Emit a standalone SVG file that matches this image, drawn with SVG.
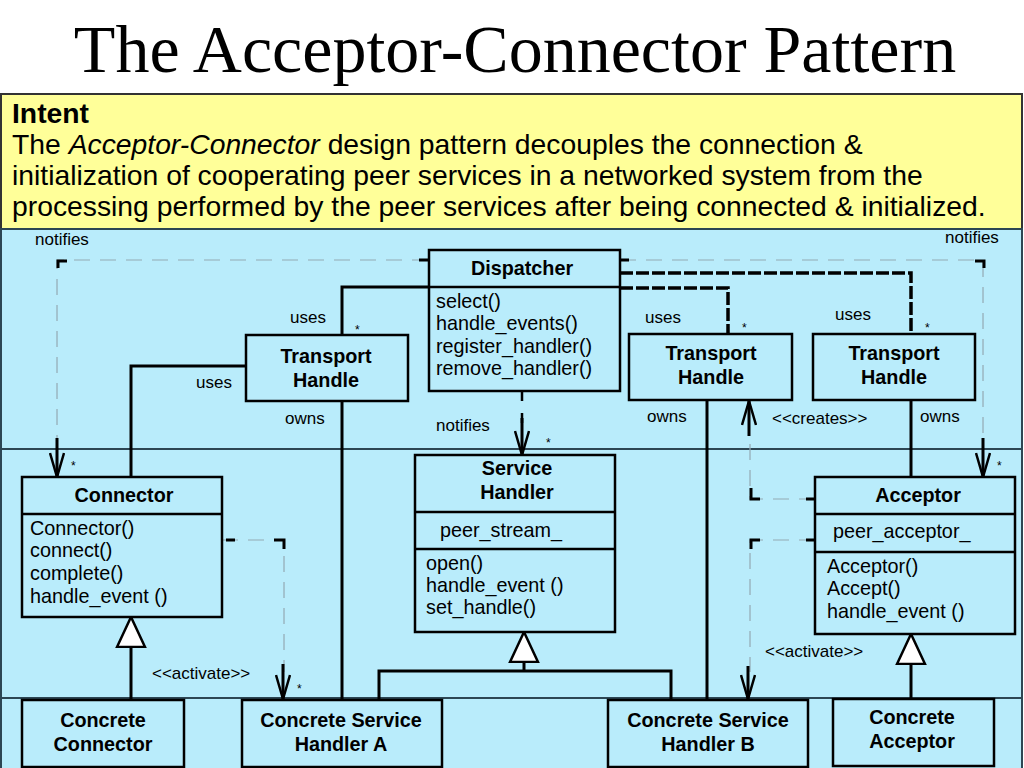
<svg xmlns="http://www.w3.org/2000/svg" width="1024" height="768" viewBox="0 0 1024 768">
<style>
 .title{font-family:"Liberation Serif","Times New Roman",serif;font-size:68px;fill:#000}
 .intent{font-family:"Liberation Sans",Arial,sans-serif;font-size:28.3px;fill:#000}
 .box{fill:#b9ecfb;stroke:#000;stroke-width:2.5}
 .sep{stroke:#000;stroke-width:2.5}
 .nt{font-family:"Liberation Sans",Arial,sans-serif;font-size:19.8px;font-weight:bold;text-anchor:middle}
 .mt{font-family:"Liberation Sans",Arial,sans-serif;font-size:19.8px}
 .lb{font-family:"Liberation Sans",Arial,sans-serif;font-size:17px}
 .st{font-family:"Liberation Sans",Arial,sans-serif;font-size:12px}
 .thick{fill:none;stroke:#000;stroke-width:3}
 .thickdash{fill:none;stroke:#000;stroke-width:3.5;stroke-dasharray:13 3}
 .faint{fill:none;stroke:#93a9b3;stroke-width:1.2;stroke-dasharray:16 10}
 .mark{fill:none;stroke:#000;stroke-width:3}
 .dark{fill:none;stroke:#000;stroke-width:2.5;stroke-dasharray:10 12}
 .panel{stroke:#2d4653;stroke-width:2}
</style>
<defs>
 <marker id="open" viewBox="0 0 26 16" refX="25" refY="8" markerWidth="26" markerHeight="16" markerUnits="userSpaceOnUse" orient="auto"><path d="M1,1 L25,8 L1,15" fill="none" stroke="#000" stroke-width="2.5"/></marker>
 <marker id="tri" viewBox="0 0 32 32" refX="31" refY="16" markerWidth="32" markerHeight="32" markerUnits="userSpaceOnUse" orient="auto"><path d="M1,2 L31,16 L1,30 Z" fill="#fff" stroke="#000" stroke-width="2.5"/></marker>
</defs>
<rect width="1024" height="768" fill="#fff"/>
<text class="title" x="515" y="72" text-anchor="middle">The Acceptor-Connector Pattern</text>
<g id="intent">
 <rect x="1" y="94" width="1021" height="135" fill="#ffff99" stroke="#333" stroke-width="2"/>
 <text class="intent" x="12" y="123" font-weight="bold">Intent</text>
 <text class="intent" x="12" y="154">The <tspan font-style="italic">Acceptor-Connector</tspan> design pattern decouples the connection &amp;</text>
 <text class="intent" x="12" y="185">initialization of cooperating peer services in a networked system from the</text>
 <text class="intent" x="12" y="216">processing performed by the peer services after being connected &amp; initialized.</text>
</g>
<g id="panels">
 <rect x="1" y="229" width="1021" height="540" fill="#b9ecfb" stroke="#2d4653" stroke-width="2"/>
 <line class="panel" x1="1" y1="449" x2="1022" y2="449"/>
 <line class="panel" x1="1" y1="698" x2="1022" y2="698"/>
</g>
<g id="connectors">
 <path class="faint" d="M428,260 H57 V450"/>
 <path class="mark" d="M67,261 H58 V268 M419,260 H428"/>
 <path class="mark" d="M57,438 V477" marker-end="url(#open)"/>
 <path class="faint" d="M620,260 H983 V450"/>
 <path class="mark" d="M975,261 H984 V268 M620,260 H629"/>
 <path class="mark" d="M983,438 V477" marker-end="url(#open)"/>
 <path class="thick" d="M429,287 H342 V335"/>
 <path class="thick" d="M246,366 H131 V477"/>
 <path class="thickdash" d="M620,288 H728 V334"/>
 <path class="thickdash" d="M620,273 H911 V334"/>
 <path class="thick" d="M342,401 V700"/>
 <path class="thick" d="M707,400 V700"/>
 <path class="thick" d="M911,400 V477"/>
 <path class="dark" d="M522,391 V430"/>
 <path class="mark" d="M522,418 V455" marker-end="url(#open)"/>
 <path class="faint" d="M815,499 H750 V440"/>
 <path class="mark" d="M806,499 H815 M751,488 V499 H760"/>
 <path class="mark" d="M749,436 V401" marker-end="url(#open)"/>
 <path class="faint" d="M815,540 H750 V672"/>
 <path class="mark" d="M806,540 H815 M751,549 V540 H760"/>
 <path class="mark" d="M748,666 V699" marker-end="url(#open)"/>
 <path class="faint" d="M222,540 H284 V672"/>
 <path class="mark" d="M226,540 H235 M274,540 H284 V549"/>
 <path class="mark" d="M283,664 V699" marker-end="url(#open)"/>
 <path class="thick" d="M131,700 V617" marker-end="url(#tri)"/>
 <path class="thick" d="M379,700 V671 H671 V700"/>
 <path class="thick" d="M524,671 V632" marker-end="url(#tri)"/>
 <path class="thick" d="M911,699 V634" marker-end="url(#tri)"/>
</g>
<g id="labels">
 <text class="lb" x="35" y="245">notifies</text>
 <text class="lb" x="945" y="243">notifies</text>
 <text class="lb" x="290" y="323">uses</text>
 <text class="st" x="355" y="334">*</text>
 <text class="lb" x="196" y="388">uses</text>
 <text class="lb" x="285" y="424">owns</text>
 <text class="lb" x="436" y="431">notifies</text>
 <text class="st" x="546" y="447">*</text>
 <text class="lb" x="645" y="323">uses</text>
 <text class="st" x="742" y="332">*</text>
 <text class="lb" x="835" y="320">uses</text>
 <text class="st" x="925" y="332">*</text>
 <text class="lb" x="647" y="422">owns</text>
 <text class="lb" x="772" y="424">&lt;&lt;creates&gt;&gt;</text>
 <text class="lb" x="920" y="422">owns</text>
 <text class="st" x="71" y="470">*</text>
 <text class="st" x="997" y="470">*</text>
 <text class="lb" x="152" y="679">&lt;&lt;activate&gt;&gt;</text>
 <text class="st" x="297" y="693">*</text>
 <text class="lb" x="765" y="657">&lt;&lt;activate&gt;&gt;</text>
</g>
<g id="dispatcher">
 <rect class="box" x="429" y="250" width="191" height="141"/>
 <line class="sep" x1="429" y1="287" x2="620" y2="287"/>
 <text class="nt" x="522" y="275">Dispatcher</text>
 <text class="mt" x="436" y="308">select()</text>
 <text class="mt" x="436" y="330">handle_events()</text>
 <text class="mt" x="436" y="353">register_handler()</text>
 <text class="mt" x="436" y="375">remove_handler()</text>
</g>
<g id="transport-handle-1">
 <rect class="box" x="246" y="335" width="162" height="66"/>
 <text class="nt" x="326" y="363">Transport</text>
 <text class="nt" x="326" y="387">Handle</text>
</g>
<g id="transport-handle-2">
 <rect class="box" x="629" y="334" width="163" height="66"/>
 <text class="nt" x="711" y="360">Transport</text>
 <text class="nt" x="711" y="384">Handle</text>
</g>
<g id="transport-handle-3">
 <rect class="box" x="813" y="334" width="162" height="66"/>
 <text class="nt" x="894" y="360">Transport</text>
 <text class="nt" x="894" y="384">Handle</text>
</g>
<g id="connector">
 <rect class="box" x="22" y="477" width="200" height="140"/>
 <line class="sep" x1="22" y1="514" x2="222" y2="514"/>
 <text class="nt" x="124" y="502">Connector</text>
 <text class="mt" x="30" y="535">Connector()</text>
 <text class="mt" x="30" y="557">connect()</text>
 <text class="mt" x="30" y="580">complete()</text>
 <text class="mt" x="30" y="603">handle_event ()</text>
</g>
<g id="service-handler">
 <rect class="box" x="415" y="455" width="200" height="177"/>
 <line class="sep" x1="415" y1="512" x2="615" y2="512"/>
 <line class="sep" x1="415" y1="549" x2="615" y2="549"/>
 <text class="nt" x="517" y="475">Service</text>
 <text class="nt" x="517" y="499">Handler</text>
 <text class="mt" x="440" y="537">peer_stream_</text>
 <text class="mt" x="426" y="570">open()</text>
 <text class="mt" x="426" y="592">handle_event ()</text>
 <text class="mt" x="426" y="614">set_handle()</text>
</g>
<g id="acceptor">
 <rect class="box" x="815" y="477" width="200" height="157"/>
 <line class="sep" x1="815" y1="514" x2="1015" y2="514"/>
 <line class="sep" x1="815" y1="552" x2="1015" y2="552"/>
 <text class="nt" x="918" y="502">Acceptor</text>
 <text class="mt" x="833" y="538">peer_acceptor_</text>
 <text class="mt" x="827" y="573">Acceptor()</text>
 <text class="mt" x="827" y="595">Accept()</text>
 <text class="mt" x="827" y="618">handle_event ()</text>
</g>
<g id="concrete-connector">
 <rect class="box" x="22" y="700" width="162" height="67"/>
 <text class="nt" x="103" y="727">Concrete</text>
 <text class="nt" x="103" y="751">Connector</text>
</g>
<g id="concrete-service-handler-a">
 <rect class="box" x="242" y="700" width="200" height="67"/>
 <text class="nt" x="341" y="727">Concrete Service</text>
 <text class="nt" x="341" y="751">Handler A</text>
</g>
<g id="concrete-service-handler-b">
 <rect class="box" x="608" y="700" width="200" height="67"/>
 <text class="nt" x="708" y="727">Concrete Service</text>
 <text class="nt" x="708" y="751">Handler B</text>
</g>
<g id="concrete-acceptor">
 <rect class="box" x="833" y="699" width="161" height="67"/>
 <text class="nt" x="912" y="724">Concrete</text>
 <text class="nt" x="912" y="748">Acceptor</text>
</g>
</svg>
